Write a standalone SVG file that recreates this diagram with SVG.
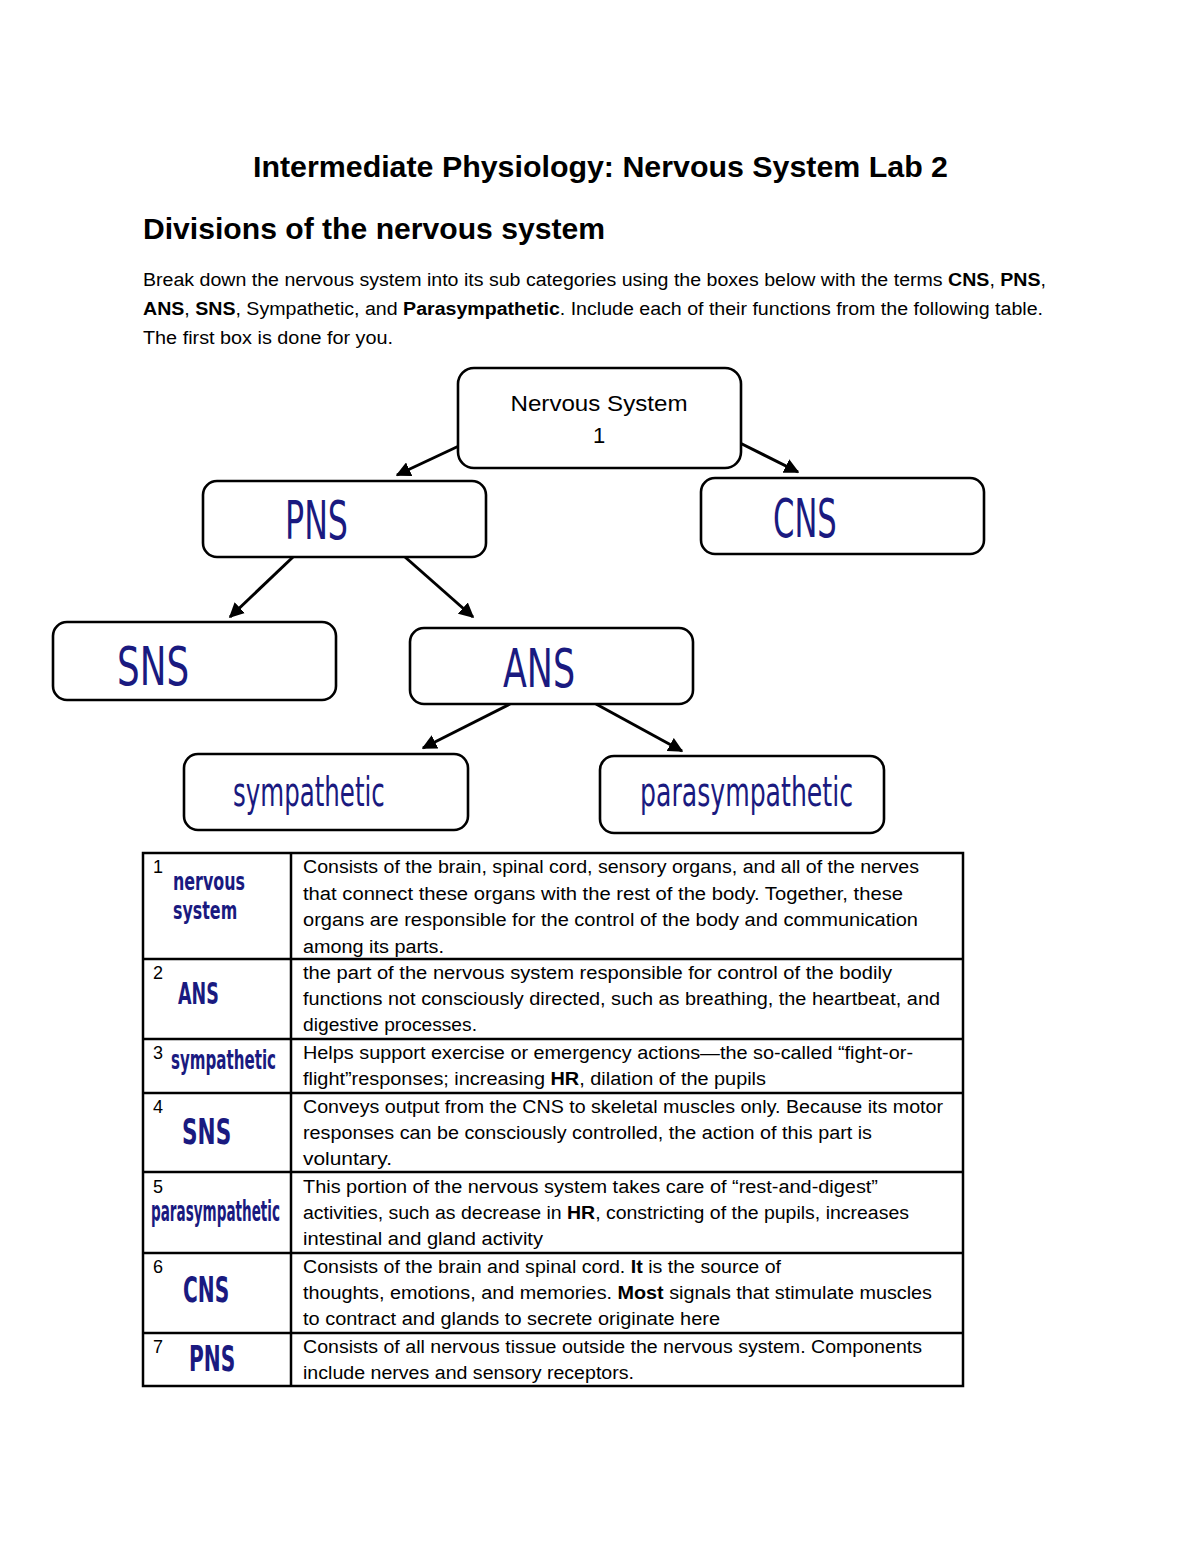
<svg xmlns="http://www.w3.org/2000/svg" width="1200" height="1553" viewBox="0 0 1200 1553">
<style>
  .t{font-family:"Liberation Sans",Arial,sans-serif;fill:#000}
  .b{font-weight:bold}
  .body{font-size:18px}
  .node{fill:#fff;stroke:#000;stroke-width:2.6}
  .hw{font-family:"DejaVu Sans Condensed","DejaVu Sans",sans-serif;fill:#1a1a80}
  .hb{font-weight:bold}
  .conn line{stroke:#000;stroke-width:3}
  .grid{stroke:#000;stroke-width:2.5;fill:none}
</style>
<defs>
  <marker id="ah" viewBox="0 0 10 10" refX="9" refY="5" markerWidth="5" markerHeight="5" orient="auto" markerUnits="strokeWidth">
    <path d="M0,0 L10,5 L0,10 z" fill="#000"/>
  </marker>
</defs>
<rect width="1200" height="1553" fill="#fff"/>

<g id="header">
  <text class="t b" x="253" y="177" font-size="30" textLength="695" lengthAdjust="spacingAndGlyphs">Intermediate Physiology: Nervous System Lab 2</text>
  <text class="t b" x="143" y="239" font-size="30" textLength="462" lengthAdjust="spacingAndGlyphs">Divisions of the nervous system</text>
  <text class="t body" x="143" y="286" textLength="903" lengthAdjust="spacingAndGlyphs">Break down the nervous system into its sub categories using the boxes below with the terms <tspan class="b">CNS</tspan>, <tspan class="b">PNS</tspan>,</text>
  <text class="t body" x="143" y="315" textLength="900" lengthAdjust="spacingAndGlyphs"><tspan class="b">ANS</tspan>, <tspan class="b">SNS</tspan>, Sympathetic, and <tspan class="b">Parasympathetic</tspan>. Include each of their functions from the following table.</text>
  <text class="t body" x="143" y="344" textLength="250" lengthAdjust="spacingAndGlyphs">The first box is done for you.</text>
</g>

<g id="connectors" class="conn">
  <line x1="461" y1="445" x2="397" y2="475" marker-end="url(#ah)"/>
  <line x1="738" y1="442" x2="798" y2="472" marker-end="url(#ah)"/>
  <line x1="293" y1="557" x2="230" y2="617" marker-end="url(#ah)"/>
  <line x1="405" y1="557" x2="473" y2="617" marker-end="url(#ah)"/>
  <line x1="510" y1="704" x2="423" y2="748" marker-end="url(#ah)"/>
  <line x1="596" y1="704" x2="682" y2="751" marker-end="url(#ah)"/>
</g>

<g id="node-nervous-system">
  <rect class="node" x="458" y="368" width="283" height="100" rx="16"/>
  <text class="t" x="599" y="411" font-size="22" text-anchor="middle" textLength="177" lengthAdjust="spacingAndGlyphs">Nervous System</text>
  <text class="t" x="599" y="443" font-size="22" text-anchor="middle">1</text>
</g>
<g id="node-pns">
  <rect class="node" x="203" y="481" width="283" height="76" rx="14"/>
  <text class="hw" transform="translate(285,539) scale(0.7,1)" font-size="54" textLength="90" lengthAdjust="spacingAndGlyphs">PNS</text>
</g>
<g id="node-cns">
  <rect class="node" x="701" y="478" width="283" height="76" rx="14"/>
  <text class="hw" transform="translate(773,537) scale(0.7,1)" font-size="54" textLength="91" lengthAdjust="spacingAndGlyphs">CNS</text>
</g>
<g id="node-sns">
  <rect class="node" x="53" y="622" width="283" height="78" rx="14"/>
  <text class="hw" transform="translate(117,685) scale(0.7,1)" font-size="54" textLength="103" lengthAdjust="spacingAndGlyphs">SNS</text>
</g>
<g id="node-ans">
  <rect class="node" x="410" y="628" width="283" height="76" rx="14"/>
  <text class="hw" transform="translate(503,687) scale(0.7,1)" font-size="54" textLength="103" lengthAdjust="spacingAndGlyphs">ANS</text>
</g>
<g id="node-sympathetic">
  <rect class="node" x="184" y="754" width="284" height="76" rx="14"/>
  <text class="hw" transform="translate(233,806) scale(0.6,1)" font-size="40" textLength="253" lengthAdjust="spacingAndGlyphs">sympathetic</text>
</g>
<g id="node-parasympathetic">
  <rect class="node" x="600" y="756" width="284" height="77" rx="14"/>
  <text class="hw" transform="translate(640,806) scale(0.6,1)" font-size="40" textLength="355" lengthAdjust="spacingAndGlyphs">parasympathetic</text>
</g>

<g id="table">
  <rect class="grid" x="143" y="853" width="820" height="533"/>
  <line class="grid" x1="291" y1="853" x2="291" y2="1386"/>
  <line class="grid" x1="143" y1="959" x2="963" y2="959"/>
  <line class="grid" x1="143" y1="1039" x2="963" y2="1039"/>
  <line class="grid" x1="143" y1="1093" x2="963" y2="1093"/>
  <line class="grid" x1="143" y1="1172" x2="963" y2="1172"/>
  <line class="grid" x1="143" y1="1253" x2="963" y2="1253"/>
  <line class="grid" x1="143" y1="1333" x2="963" y2="1333"/>

  <g class="t body">
    <text x="153" y="873">1</text>
    <text x="153" y="979">2</text>
    <text x="153" y="1059">3</text>
    <text x="153" y="1113">4</text>
    <text x="153" y="1193">5</text>
    <text x="153" y="1273">6</text>
    <text x="153" y="1353">7</text>
  </g>
  <g class="hw hb">
    <text transform="translate(173,890) scale(0.6,1)" font-size="24" textLength="120" lengthAdjust="spacingAndGlyphs">nervous</text>
    <text transform="translate(173,919) scale(0.6,1)" font-size="24" textLength="107" lengthAdjust="spacingAndGlyphs">system</text>
    <text transform="translate(178,1004) scale(0.6,1)" font-size="30" textLength="68" lengthAdjust="spacingAndGlyphs">ANS</text>
    <text transform="translate(171,1069) scale(0.6,1)" font-size="26" textLength="175" lengthAdjust="spacingAndGlyphs">sympathetic</text>
    <text transform="translate(182,1144) scale(0.6,1)" font-size="36" textLength="82" lengthAdjust="spacingAndGlyphs">SNS</text>
    <text transform="translate(151,1221) scale(0.5,1)" font-size="28" textLength="258" lengthAdjust="spacingAndGlyphs">parasympathetic</text>
    <text transform="translate(183,1302) scale(0.6,1)" font-size="36" textLength="77" lengthAdjust="spacingAndGlyphs">CNS</text>
    <text transform="translate(189,1371) scale(0.6,1)" font-size="36" textLength="77" lengthAdjust="spacingAndGlyphs">PNS</text>
  </g>
  <g class="t body">
    <text x="303" y="873" textLength="616" lengthAdjust="spacingAndGlyphs">Consists of the brain, spinal cord, sensory organs, and all of the nerves</text>
    <text x="303" y="900" textLength="600" lengthAdjust="spacingAndGlyphs">that connect these organs with the rest of the body. Together, these</text>
    <text x="303" y="926" textLength="615" lengthAdjust="spacingAndGlyphs">organs are responsible for the control of the body and communication</text>
    <text x="303" y="953" textLength="141" lengthAdjust="spacingAndGlyphs">among its parts.</text>

    <text x="303" y="979" textLength="589" lengthAdjust="spacingAndGlyphs">the part of the nervous system responsible for control of the bodily</text>
    <text x="303" y="1005" textLength="637" lengthAdjust="spacingAndGlyphs">functions not consciously directed, such as breathing, the heartbeat, and</text>
    <text x="303" y="1031" textLength="174" lengthAdjust="spacingAndGlyphs">digestive processes.</text>

    <text x="303" y="1059" textLength="610" lengthAdjust="spacingAndGlyphs">Helps support exercise or emergency actions—the so-called “fight-or-</text>
    <text x="303" y="1085" textLength="463" lengthAdjust="spacingAndGlyphs">flight”responses; increasing <tspan class="b">HR</tspan>, dilation of the pupils</text>

    <text x="303" y="1113" textLength="640" lengthAdjust="spacingAndGlyphs">Conveys output from the CNS to skeletal muscles only. Because its motor</text>
    <text x="303" y="1139" textLength="569" lengthAdjust="spacingAndGlyphs">responses can be consciously controlled, the action of this part is</text>
    <text x="303" y="1165" textLength="89" lengthAdjust="spacingAndGlyphs">voluntary.</text>

    <text x="303" y="1193" textLength="575" lengthAdjust="spacingAndGlyphs">This portion of the nervous system takes care of “rest-and-digest”</text>
    <text x="303" y="1219" textLength="606" lengthAdjust="spacingAndGlyphs">activities, such as decrease in <tspan class="b">HR</tspan>, constricting of the pupils, increases</text>
    <text x="303" y="1245" textLength="240" lengthAdjust="spacingAndGlyphs">intestinal and gland activity</text>

    <text x="303" y="1273" textLength="478" lengthAdjust="spacingAndGlyphs">Consists of the brain and spinal cord. <tspan class="b">It</tspan> is the source of</text>
    <text x="303" y="1299" textLength="629" lengthAdjust="spacingAndGlyphs">thoughts, emotions, and memories. <tspan class="b">Most</tspan> signals that stimulate muscles</text>
    <text x="303" y="1325" textLength="417" lengthAdjust="spacingAndGlyphs">to contract and glands to secrete originate here</text>

    <text x="303" y="1353" textLength="619" lengthAdjust="spacingAndGlyphs">Consists of all nervous tissue outside the nervous system. Components</text>
    <text x="303" y="1379" textLength="331" lengthAdjust="spacingAndGlyphs">include nerves and sensory receptors.</text>
  </g>
</g>
</svg>
